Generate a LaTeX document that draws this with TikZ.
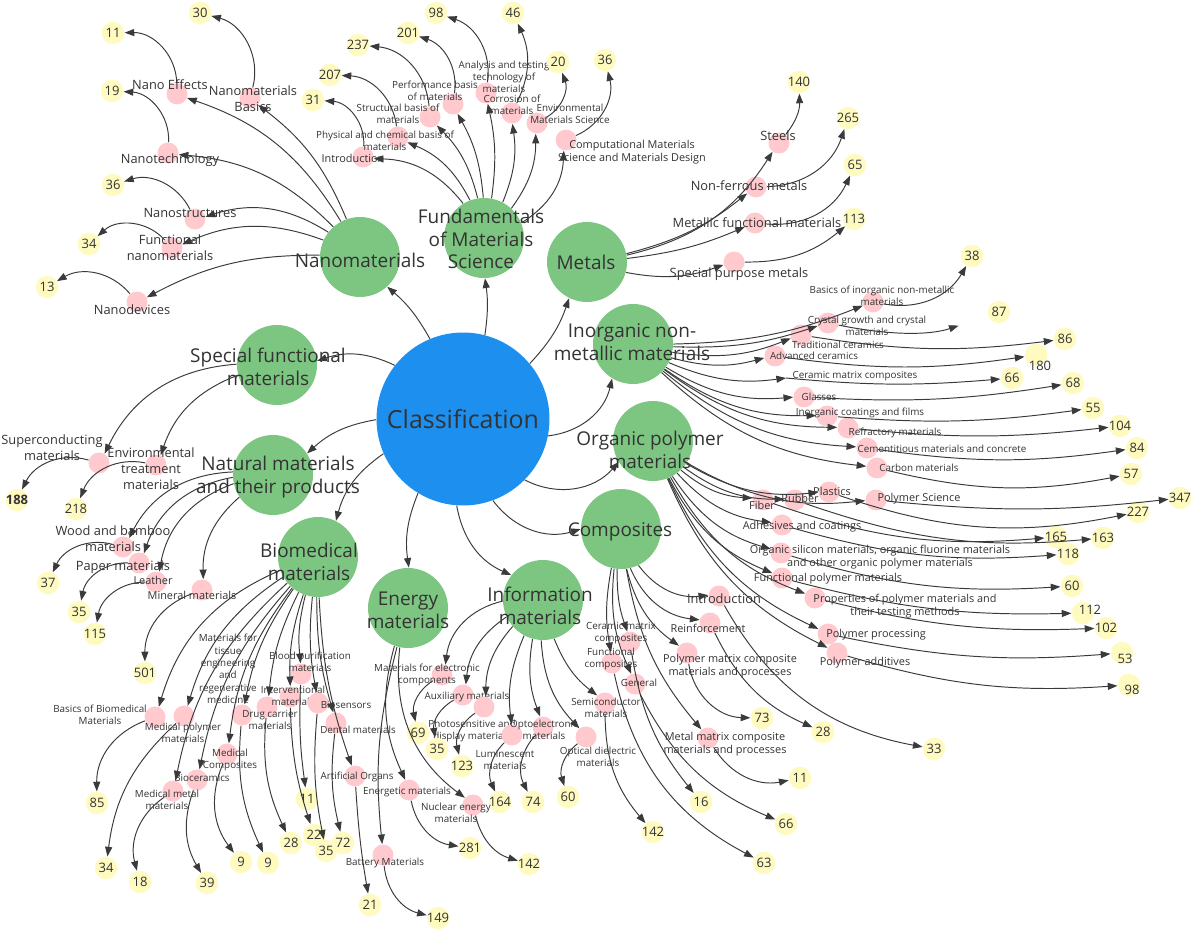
\documentclass[tikz,border=0pt]{standalone}
\usepackage{fontspec}
\setmainfont{Open Sans}
\usetikzlibrary{arrows.meta}
\definecolor{blu}{RGB}{28,143,239}
\definecolor{grn}{RGB}{125,198,130}
\definecolor{pnk}{RGB}{255,201,206}
\definecolor{ylw}{RGB}{255,250,192}
\definecolor{txt}{RGB}{51,51,51}
\definecolor{lin}{RGB}{58,58,58}
\tikzset{
 hub/.style={circle, fill=blu, minimum size=3.46cm, inner sep=0},
 grc/.style={circle, fill=grn, minimum size=1.6cm, inner sep=0},
 pk/.style={circle, fill=pnk, minimum size=0.42cm, inner sep=0},
 yc/.style={circle, fill=ylw, minimum size=0.45cm, inner sep=0},
 nt/.style={font=\fontsize{7.4pt}{9pt}\selectfont, text=txt, inner sep=0},
 lbA/.style={font=\fontsize{7.3pt}{9pt}\selectfont, align=center, text=txt, inner sep=0},
 lbB/.style={font=\fontsize{6.2pt}{7.7pt}\selectfont, align=center, text=txt, inner sep=0},
 lbC/.style={font=\fontsize{5.6pt}{7pt}\selectfont, align=center, text=txt, inner sep=0},
 glab/.style={font=\fontsize{10.8pt}{13pt}\selectfont, align=center, text=txt, inner sep=0},
 ar/.style={draw=lin, line width=0.55pt, -{Triangle[length=5.5pt,width=4pt]}},
}
\newcommand\Pk[5][lbC]{\node[pk] (#2) at (#3) {}; \node[#1] (#2l) at (#4) {#5};}
\newcommand\Yl[3]{\node[yc] (#1) at (#2) {}; \node[nt] (#1t) at (#2) {#3};}
\newcommand\Yo[4]{\node[yc] (#1) at (#2) {}; \node[nt] (#1t) at (#3) {#4};}
\newcommand\Ar[3][25]{\draw[ar] (#2) to[bend right=#1] (#3);}
\begin{document}
\begin{tikzpicture}[x=0.02cm,y=0.02cm]
\useasboundingbox (0,0) rectangle (1200,-932);
% hub and groups
\node[hub] (cls) at (463,-419) {};
\node[font=\fontsize{14.2pt}{17pt}\selectfont, text=txt, inner sep=0] (clst) at (463,-419) {Classification};
\node[grc] (nano) at (360,-257) {}; \node[glab] (nanot) at (360,-260) {Nanomaterials};
\node[grc] (fund) at (484,-238) {}; \node[glab] (fundt) at (481,-239) {Fundamentals\\of Materials\\Science};
\node[grc] (metal) at (587,-262) {}; \node[glab] (metalt) at (586,-262) {Metals};
\node[grc] (inorg) at (633,-344) {}; \node[glab] (inorgt) at (632,-342) {Inorganic non-\\metallic materials};
\node[grc] (poly) at (653,-441) {}; \node[glab] (polyt) at (650,-450) {Organic polymer\\materials};
\node[grc] (comp) at (621,-529) {}; \node[glab] (compt) at (620,-532) {Composites};
\node[grc] (info) at (543,-600) {}; \node[glab] (infot) at (540,-606) {Information\\materials};
\node[grc] (energy) at (408,-608) {}; \node[glab] (energyt) at (408,-610) {Energy\\materials};
\node[grc] (bio) at (318,-557) {}; \node[glab] (biot) at (309,-562) {Biomedical\\materials};
\node[grc] (natural) at (273,-475) {}; \node[glab] (naturalt) at (278,-477) {Natural materials\\and their products};
\node[grc] (special) at (277,-365) {}; \node[glab] (specialt) at (268,-367) {Special functional\\materials};
% Nanomaterials
\Pk[lbA]{ne}{177,-94}{170,-85}{Nano Effects}
\Pk[lbA]{nb}{250,-98}{253,-99}{Nanomaterials\\Basics}
\Pk[lbA]{nt}{168,-153}{170,-160}{Nanotechnology}
\Pk[lbA]{ns}{195,-219}{190,-213}{Nanostructures}
\Pk[lbA]{nf}{172,-248}{170,-248}{Functional\\nanomaterials}
\Pk[lbA]{nd}{137,-302}{132,-310}{Nanodevices}
\Yl{y11a}{113,-33}{11}
\Yl{y30}{200,-13}{30}
\Yl{y19}{112,-91}{19}
\Yl{y36a}{113,-185}{36}
\Yl{y34a}{89,-244}{34}
\Yl{y13}{47,-287}{13}
% Fundamentals
\Pk[lbB]{fi}{363,-157}{353,-158}{Introduction}
\Pk{fp}{398,-137}{385,-141}{Physical and chemical basis of\\materials}
\Pk{fs}{430,-117}{398,-114}{Structural basis of\\materials}
\Pk{fpb}{453,-104}{435,-91}{Performance basis\\of materials}
\Pk{fa}{486,-93}{504,-77}{Analysis and testing\\technology of\\materials}
\Pk{fc}{512,-113}{512,-105}{Corrosion of\\materials}
\Pk{fe}{537,-123}{570,-114}{Environmental\\Materials Science}
\Pk[lbB]{fcm}{566,-140}{632,-152}{Computational Materials\\Science and Materials Design}
\Yl{y31}{313,-100}{31}
\Yl{y207}{330,-75}{207}
\Yl{y237}{358,-45}{237}
\Yl{y201}{408,-33}{201}
\Yl{y98a}{436,-13}{98}
\Yl{y46}{513,-13}{46}
\Yl{y20}{558,-62}{20}
\Yl{y36b}{605,-60}{36}
% Metals
\Pk[lbA]{ms}{779,-143}{778,-136}{Steels}
\Pk[lbA]{mn}{756,-187}{749,-186}{Non-ferrous metals}
\Pk[lbA]{mf}{755,-223}{757,-223}{Metallic functional materials}
\Pk[lbA]{mp}{734,-262}{739,-274}{Special purpose metals}
\Yl{y140}{799,-82}{140}
\Yl{y265}{848,-118}{265}
\Yl{y65}{855,-165}{65}
\Yl{y113}{854,-219}{113}
% Inorganic
\Pk{ib}{873,-302}{882,-296}{Basics of inorganic non-metallic\\materials}
\Pk{icg}{828,-323}{867,-326}{Crystal growth and crystal\\materials}
\Pk{itc}{801,-335}{838,-345}{Traditional ceramics}
\Pk{iac}{775,-356}{814,-356}{Advanced ceramics}
\coordinate (icm) at (786,-378);
\node[lbC] (icml) at (855,-376) {Ceramic matrix composites};
\Pk{igl}{804,-397}{819,-397}{Glasses}
\Pk{ico}{827,-416}{860,-413}{Inorganic coatings and films}
\Pk{ire}{848,-428}{895,-433}{Refractory materials}
\Pk{ice}{867,-448}{942,-449}{Cementitious materials and concrete}
\Pk{ica}{877,-468}{919,-468}{Carbon materials}
\Yl{y38}{972,-256}{38}
\Yl{y87}{999,-312}{87}
\Yl{y86}{1065,-339}{86}
\Yo{y180}{1036,-355}{1040,-366}{180}
\Yl{y66a}{1012,-378}{66}
\Yl{y68}{1073,-383}{68}
\Yl{y55}{1093,-408}{55}
\Yl{y104}{1120,-426}{104}
\Yl{y84}{1137,-448}{84}
\Yl{y57}{1131,-474}{57}
% Organic polymer
\Pk[lbB]{pfi}{763,-500}{762,-505}{Fiber}
\Pk[lbB]{pru}{795,-500}{800,-498}{Rubber}
\Pk[lbB]{ppl}{829,-492}{832,-491}{Plastics}
\Pk[lbB]{pps}{876,-500}{919,-499}{Polymer Science}
\Pk[lbB]{pad}{782,-525}{802,-527}{Adhesives and coatings}
\Pk[lbB]{pos}{781,-553}{880,-557}{Organic silicon materials, organic fluorine materials\\and other organic polymer materials}
\Pk[lbB]{pfu}{782,-578}{828,-579}{Functional polymer materials}
\Pk[lbB]{ppr}{815,-598}{905,-606}{Properties of polymer materials and\\their testing methods}
\Pk[lbB]{ppc}{828,-634}{876,-635}{Polymer processing}
\Pk[lbB]{ppa}{837,-653}{865,-663}{Polymer additives}
\Yl{y165}{1056,-537}{165}
\Yl{y163}{1103,-538}{163}
\Yl{y227}{1138,-512}{227}
\Yl{y347}{1180,-498}{347}
\Yl{y118}{1068,-554}{118}
\Yl{y60a}{1072,-586}{60}
\Yo{y112}{1083,-613}{1090,-610}{112}
\Yl{y102}{1106,-628}{102}
\Yo{y53}{1122,-653}{1125,-659}{53}
\Yo{y98b}{1129,-685}{1132,-690}{98}
% Composites
\Pk[lbA]{ci}{719,-596}{724,-599}{Introduction}
\Pk[lbB]{cr}{710,-623}{708,-628}{Reinforcement}
\Pk[lbB]{cpm}{687,-653}{730,-666}{Polymer matrix composite\\materials and processes}
\Pk[lbB]{cmm}{708,-738}{725,-744}{Metal matrix composite\\materials and processes}
\Pk{ccm}{630,-642}{621,-633}{Ceramic matrix\\composites}
\Pk{cfc}{612,-663}{611,-659}{Functional\\composites}
\Pk{cg}{635,-684}{639,-683}{General}
\Yl{y33}{934,-749}{33}
\Yl{y28b}{823,-732}{28}
\Yl{y73}{762,-718}{73}
\Yl{y11c}{800,-778}{11}
\Yl{y16}{701,-802}{16}
\Yl{y63}{764,-863}{63}
\Yl{y66b}{786,-824}{66}
% Information
\Pk{iel}{442,-675}{427,-675}{Materials for electronic\\components}
\Pk{iau}{463,-695}{467,-697}{Auxiliary materials}
\Pk{iph}{484,-707}{472,-731}{Photosensitive and\\display materials}
\Pk{ilu}{512,-735}{505,-760}{Luminescent\\materials}
\Pk{iop}{543,-727}{544,-730}{Optoelectronic\\materials}
\Pk{ise}{605,-703}{606,-708}{Semiconductor\\materials}
\Pk{iod}{586,-737}{598,-757}{Optical dielectric\\materials}
\Yl{y69}{418,-733}{69}
\Yl{y35b}{437,-749}{35}
\Yl{y123}{462,-766}{123}
\Yl{y164}{500,-802}{164}
\Yl{y74}{533,-802}{74}
\Yl{y142a}{653,-832}{142}
\Yl{y60b}{568,-797}{60}
% Energy
\Pk{een}{409,-790}{407,-792}{Energetic materials}
\Pk{enu}{473,-805}{456,-813}{Nuclear energy\\materials}
\Pk{eba}{383,-855}{385,-863}{Battery Materials}
\Yl{y281}{470,-848}{281}
\Yl{y142b}{529,-864}{142}
\Yl{y149}{438,-918}{149}
% Biomedical
\Pk{bba}{155,-717}{100,-715}{Basics of Biomedical\\Materials}
\Pk{bmp}{184,-716}{183,-733}{Medical polymer\\materials}
\Pk{bmc}{227,-754}{230,-760}{Medical\\Composites}
\Pk{bbc}{197,-780}{202,-778}{Bioceramics}
\Pk{bmm}{173,-791}{167,-800}{Medical metal\\materials}
\Pk{bti}{242,-715}{228,-669}{Materials for\\tissue\\engineering\\and\\regenerative\\medicine}
\Pk{bdc}{267,-707}{270,-720}{Drug carrier\\materials}
\Pk{biv}{290,-697}{293,-696}{Interventional\\materials}
\Pk{bbp}{301,-674}{310,-662}{Blood purification\\materials}
\Pk{bbs}{318,-703}{346,-705}{Biosensors}
\Pk{bde}{336,-723}{358,-730}{Dental materials}
\Pk{bao}{355,-776}{357,-777}{Artificial Organs}
\Yl{y85}{97,-803}{85}
\Yl{y34b}{106,-868}{34}
\Yl{y9a}{241,-862}{9}
\Yl{y39}{207,-883}{39}
\Yl{y18}{140,-882}{18}
\Yl{y9b}{268,-863}{9}
\Yl{y28a}{291,-843}{28}
\Yl{y22}{314,-835}{22}
\Yl{y11b}{307,-799}{11}
\Yl{y35c}{326,-851}{35}
\Yl{y72}{343,-843}{72}
\Yl{y21}{370,-905}{21}
% Natural
\Pk[lbA]{nwb}{123,-547}{113,-539}{Wood and bamboo\\materials}
\Pk[lbA]{npa}{139,-563}{123,-567}{Paper materials}
\Pk[lbB]{nle}{156,-582}{153,-580}{Leather}
\Pk[lbB]{nmi}{202,-590}{192,-595}{Mineral materials}
\Yl{y37}{48,-583}{37}
\Yl{y35a}{79,-612}{35}
\Yl{y115}{95,-634}{115}
\Yl{y501}{145,-673}{501}
% Special
\Pk[lbA]{ssc}{99,-463}{52,-448}{Superconducting\\materials}
\Pk[lbA]{set}{156,-465}{151,-469}{Environmental\\treatment\\materials}
\Yl{y188}{17,-500}{\textbf{188}}
\Yl{y218}{76,-509}{218}
% ---- connectors: hub
\Ar[10]{cls}{nano} \Ar[8]{cls}{fund} \Ar[12]{cls}{metal} \Ar[35]{cls}{inorg}
\Ar[38]{cls}{poly} \Ar[35]{cls}{comp} \Ar[28]{cls}{info} \Ar[15]{cls}{energy}
\Ar[20]{cls}{bio} \Ar[16]{cls}{natural} \Ar[22]{cls}{special}
% nano
\Ar[20]{nano}{ne} \Ar[15]{nano}{nb} \Ar[20]{nano}{nt} \Ar[25]{nano}{ns} \Ar[22]{nano}{nf} \Ar[14]{nano}{nd}
\Ar[45]{ne}{y11a} \Ar[45]{nb}{y30} \Ar[45]{nt}{y19} \Ar[40]{ns}{y36a} \Ar[45]{nf}{y34a} \Ar[40]{nd}{y13}
% fund
\Ar[25]{fund}{fi} \Ar[20]{fund}{fp} \Ar[15]{fund}{fs} \Ar[12]{fund}{fpb} \Ar[10]{fund}{fa} \Ar[15]{fund}{fc} \Ar[18]{fund}{fe} \Ar[28]{fund}{fcm}
\Ar[45]{fi}{y31} \Ar[40]{fp}{y207} \Ar[40]{fs}{y237} \Ar[40]{fpb}{y201} \Ar[40]{fa}{y98a} \Ar[25]{fc}{y46} \Ar[40]{fe}{y20} \Ar[40]{fcm}{y36b}
% metals
\Ar[22]{metal}{ms} \Ar[12]{metal}{mn} \Ar[8]{metal}{mf} \Ar[15]{metal}{mp}
\Ar[20]{ms}{y140} \Ar[35]{mn}{y265} \Ar[35]{mf}{y65} \Ar[20]{mp}{y113}
% inorganic
\Ar[10]{inorg}{ib} \Ar[10]{inorg}{icg} \Ar[15]{inorg}{itc} \Ar[15]{inorg}{iac} \Ar[15]{inorg}{icm}
\Ar[18]{inorg}{igl} \Ar[18]{inorg}{ico} \Ar[18]{inorg}{ire} \Ar[18]{inorg}{ice} \Ar[18]{inorg}{ica}
\Ar[35]{ib}{y38}
\draw[ar, shorten >=0.62cm] (icg) to[bend right=15] (y87);
\Ar[8]{itc}{y86} \Ar[8]{iac}{y180} \Ar[5]{icm}{y66a} \Ar[6]{igl}{y68} \Ar[6]{ico}{y55}
\Ar[6]{ire}{y104} \Ar[8]{ice}{y84} \Ar[12]{ica}{y57}
% polymer
\Ar[18]{poly}{pfi} \Ar[18]{poly}{pru} \Ar[18]{poly}{ppl} \Ar[18]{poly}{pps} \Ar[20]{poly}{pad}
\Ar[20]{poly}{pos} \Ar[20]{poly}{pfu} \Ar[20]{poly}{ppr} \Ar[20]{poly}{ppc} \Ar[20]{poly}{ppa}
\Ar[12]{pfi}{y165} \Ar[12]{pru}{y163} \Ar[15]{ppl}{y227} \Ar[6]{pps}{y347} \Ar[10]{pad}{y118}
\Ar[10]{pos}{y60a} \Ar[8]{pfu}{y112} \Ar[8]{ppr}{y102} \Ar[8]{ppc}{y53} \Ar[10]{ppa}{y98b}
% composites
\Ar[30]{comp}{ci} \Ar[30]{comp}{cr} \Ar[20]{comp}{cpm} \Ar[15]{comp}{cmm} \Ar[10]{comp}{ccm} \Ar[10]{comp}{cfc} \Ar[15]{comp}{cg}
\Ar[25]{ci}{y33} \Ar[20]{cr}{y28b} \Ar[40]{cpm}{y73} \Ar[35]{cmm}{y11c} \Ar[15]{ccm}{y16} \Ar[25]{cfc}{y63} \Ar[20]{cg}{y66b}
% information
\Ar[35]{info}{iel} \Ar[25]{info}{iau} \Ar[20]{info}{iph} \Ar[15]{info}{ilu} \Ar[15]{info}{iop} \Ar[15]{info}{ise} \Ar[20]{info}{iod}
\Ar[35]{iel}{y69} \Ar[35]{iau}{y35b} \Ar[35]{iph}{y123} \Ar[35]{ilu}{y164} \Ar[35]{iop}{y74} \Ar[20]{ise}{y142a} \Ar[35]{iod}{y60b}
% energy
\Ar[20]{energy}{een} \Ar[30]{energy}{enu} \Ar[10]{energy}{eba}
\Ar[35]{een}{y281} \Ar[30]{enu}{y142b} \Ar[35]{eba}{y149}
% biomedical
\Ar[25]{bio}{bba} \Ar[20]{bio}{bmp} \Ar[15]{bio}{bmc} \Ar[15]{bio}{bbc} \Ar[18]{bio}{bmm} \Ar[12]{bio}{bti}
\Ar[10]{bio}{bdc} \Ar[10]{bio}{biv} \Ar[10]{bio}{bbp} \Ar[8]{bio}{bbs} \Ar[8]{bio}{bde} \Ar[8]{bio}{bao}
\Ar[35]{bba}{y85} \Ar[20]{bmp}{y34b} \Ar[30]{bmc}{y9a} \Ar[25]{bbc}{y39} \Ar[35]{bmm}{y18} \Ar[15]{bti}{y9b}
\Ar[15]{bdc}{y28a} \Ar[8]{biv}{y22} \Ar[5]{bbp}{y11b} \Ar[8]{bbs}{y35c} \Ar[10]{bde}{y72} \Ar[3]{bao}{y21}
% natural
\Ar[30]{natural}{nwb} \Ar[30]{natural}{npa} \Ar[30]{natural}{nle} \Ar[25]{natural}{nmi}
\Ar[40]{nwb}{y37} \Ar[40]{npa}{y35a} \Ar[40]{nle}{y115} \Ar[35]{nmi}{y501}
% special
\Ar[30]{special}{ssc} \Ar[25]{special}{set}
\Ar[40]{ssc}{y188} \Ar[40]{set}{y218}
\end{tikzpicture}
\end{document}
